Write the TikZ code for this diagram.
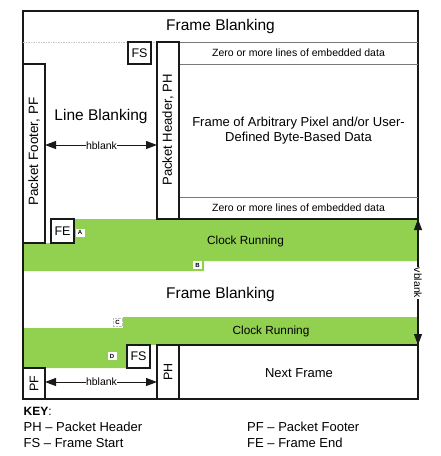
\documentclass[tikz,border=0pt]{standalone}
\usepackage{fontspec}
\setmainfont{Liberation Sans}
\usetikzlibrary{arrows.meta}
\definecolor{clkgreen}{RGB}{146,208,80}
\definecolor{edgecol}{RGB}{25,25,25}
\definecolor{rowline}{RGB}{120,120,120}
\begin{document}
\begin{tikzpicture}[x=1pt,y=-1pt,
  heavy/.style={draw=edgecol,line width=1.5pt},
  light/.style={draw=rowline,line width=0.7pt},
  txt/.style={inner sep=0pt,font=\fontsize{#1}{#1}\selectfont},
  tag/.style={fill=white,inner sep=1.2pt,minimum width=9pt,minimum height=8pt,font=\fontsize{6}{6}\selectfont\bfseries},
  dblarrow/.style={draw=edgecol,line width=1pt,{Triangle[length=11pt,width=8pt]}-{Triangle[length=11pt,width=8pt]}},
]
\useasboundingbox (0,0) rectangle (440,456);
% green bands
\fill[clkgreen] (74,219) -- (418,219) -- (418,261) -- (204,261) -- (204,271) -- (23,271) -- (23,243) -- (74,243) -- cycle;
\fill[clkgreen] (123,317) -- (418,317) -- (418,345) -- (127,345) -- (127,368) -- (23,368) -- (23,328) -- (123,328) -- cycle;
% outer frame
\draw[heavy] (23,11) rectangle (418,399);
% title band
\draw[gray!45,line width=0.6pt,dash pattern=on 1.5pt off 1pt] (23,42) -- (157,42);
\draw[light] (179,42) -- (418,42);
% embedded rows
\draw[light] (179,64) -- (418,64);
\draw[light] (179,197) -- (418,197);
% PH column and data region
\draw[heavy] (157,42) rectangle (179,219);
\draw[heavy] (179,219) -- (418,219);
% PF column
\draw[heavy] (23,64) rectangle (45,243);
% FS / FE boxes
\draw[heavy] (128,42) rectangle (151,64);
\draw[heavy] (51,219) rectangle (74,243);
% bottom row
\draw[heavy] (157,345) -- (418,345);
\draw[heavy] (157,345) rectangle (179,399);
\draw[heavy] (23,368) rectangle (45,399);
\draw[heavy,fill=white] (127,345) rectangle (150,368);
% texts
\node[txt=15.5,anchor=base] (fb1) at (220.5,30.5) {Frame Blanking};
\node[txt=15.5,anchor=base] (lb) at (101,120) {Line Blanking};
\node[txt=13.5,rotate=90] (pf) at (34,151.5) {Packet Footer, PF};
\node[txt=13.1,rotate=90] (ph) at (168,130) {Packet Header, PH};
\node[txt=12.5] (fs1) at (139.5,53) {FS};
\node[txt=12.5] (fe) at (62.5,231) {FE};
\node[txt=10.5] (emb1) at (298.5,53) {Zero or more lines of embedded data};
\node[txt=10.5] (emb2) at (298.5,208) {Zero or more lines of embedded data};
\node[txt=13,align=center,font=\fontsize{13}{15}\selectfont] (data) at (298.5,131) {Frame of Arbitrary Pixel and/or User-\\Defined Byte-Based Data};
\node[txt=11.8,anchor=base] (clk1) at (245.5,244) {Clock Running};
\node[txt=15.5,anchor=base] (fb2) at (220.5,298.5) {Frame Blanking};
\node[txt=11.8,anchor=base] (clk2) at (271,334.5) {Clock Running};
\node[txt=13,anchor=base] (nf) at (299,377) {Next Frame};
\node[txt=12.5,rotate=90] (pf2) at (34,383.5) {PF};
\node[txt=12.5,rotate=90] (ph2) at (168,372) {PH};
\node[txt=12.5] (fs2) at (138.5,356.5) {FS};
% tags
\node[tag] (ta) at (80,232.5) {A};
\node[tag] (tb) at (197.5,265) {B};
\node[tag,draw=gray!50,densely dotted,line width=0.4pt] (tc) at (117.5,322.5) {C};
\node[tag] (td) at (112,356) {D};
% arrows
\coordinate (h1l) at (45,145);
\coordinate (h1r) at (157,145);
\coordinate (h2l) at (45,382);
\coordinate (h2r) at (157,382);
\coordinate (vt) at (418,219);
\coordinate (vb) at (418,345);
\draw[dblarrow] (h1l) -- (h1r);
\draw[dblarrow] (h2l) -- (h2r);
\draw[dblarrow] (vt) -- (vb);
\node[txt=10.5,fill=white,inner xsep=0.5pt] (hb1) at (101.5,145.5) {hblank};
\node[txt=10.5,fill=white,inner xsep=0.5pt] (hb2) at (101.5,382) {hblank};
\node[txt=10.5,fill=white,inner xsep=0.5pt,rotate=-90] (vbl) at (418,283) {vblank};
% key
\node[txt=12,anchor=base west] (key) at (23.5,415) {\textbf{KEY}:};
\node[txt=13,anchor=base west] (k1) at (23.5,431.5) {PH – Packet Header};
\node[txt=13,anchor=base west] (k2) at (23.5,447) {FS – Frame Start};
\node[txt=13,anchor=base west] (k3) at (247,431.5) {PF – Packet Footer};
\node[txt=13,anchor=base west] (k4) at (247,447) {FE – Frame End};
\end{tikzpicture}
\end{document}
